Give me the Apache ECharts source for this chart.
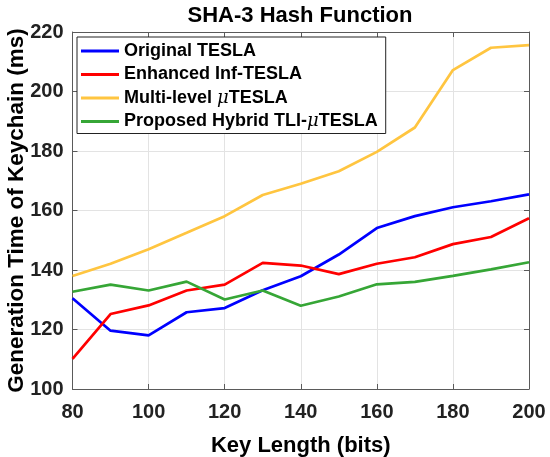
<!DOCTYPE html>
<html><head><meta charset="utf-8">
<script src="https://cdn.jsdelivr.net/npm/echarts@6/dist/echarts.min.js"></script>
<style>html,body{margin:0;padding:0;background:#fff}#c{width:550px;height:457px}</style>
</head><body><div id="c"></div>
<script>
const keyLengths = [80, 90, 100, 110, 120, 130, 140, 150, 160, 170, 180, 190, 200];
const originalTESLA = [130.5, 119.6, 118.0, 125.8, 127.2, 133.2, 137.9, 145.2, 154.1, 158.1, 161.1, 163.1, 165.4];
const enhancedInfTESLA = [110.1, 125.2, 128.1, 133.1, 135.1, 142.4, 141.5, 138.6, 142.1, 144.3, 148.7, 151.1, 157.4];
const multiLevelMuTESLA = [138.0, 142.1, 147.0, 152.5, 158.1, 165.2, 169.0, 173.2, 179.7, 187.9, 207.2, 214.7, 215.6];
const hybridTLIMuTESLA = [132.7, 135.1, 133.1, 136.1, 130.1, 133.1, 128.0, 131.1, 135.2, 136.0, 138.0, 140.2, 142.6];
const seriesNames = ['Original TESLA', 'Enhanced Inf-TESLA', 'Multi-level μTESLA', 'Proposed Hybrid TLI-μTESLA'];
const seriesColors = ['#0000FF', '#FF0000', '#FFC540', '#36A636'];

const font = 'Liberation Sans, Arial, sans-serif';
const chart = echarts.init(document.getElementById('c'));
const allData = [originalTESLA, enhancedInfTESLA, multiLevelMuTESLA, hybridTLIMuTESLA];
const axisColor = '#5a5a5a';
chart.setOption({
  animation: false,
  backgroundColor: '#fff',
  title: {
    text: 'SHA-3 Hash Function', left: 300, top: 5, padding: 0, textAlign: 'center',
    textStyle: {fontFamily: font, fontWeight: 'bold', fontSize: 22, color: '#000', lineHeight: 22}
  },
  grid: {left: 72.5, right: 21, top: 32, bottom: 68, containLabel: false, outerBoundsMode: 'none'},
  legend: {
    orient: 'vertical', left: 77, top: 37,
    icon: 'rect', itemWidth: 38, itemHeight: 3, itemGap: 3.5,
    backgroundColor: '#fff', borderColor: '#222', borderWidth: 1, borderRadius: 0,
    padding: [4, 8, 2, 4],
    data: seriesNames,
    formatter: n => n.replace('μ', '{i|μ}'),
    textStyle: {
      fontFamily: font, fontWeight: 'bold', fontSize: 18, color: '#000', lineHeight: 20,
      rich: {i: {fontFamily: 'DejaVu Serif, Liberation Serif, serif', fontStyle: 'italic', fontWeight: 'normal', fontSize: 18, color: '#000', lineHeight: 20}}
    }
  },
  xAxis: [{
    type: 'value', min: 80, max: 200, interval: 20,
    name: 'Key Length (bits)', nameLocation: 'middle', nameGap: 46, nameMoveOverlap: false,
    nameTextStyle: {fontFamily: font, fontWeight: 'bold', fontSize: 22, color: '#000', lineHeight: 22},
    axisLine: {show: true, lineStyle: {color: axisColor}},
    axisTick: {show: true, inside: true, length: 5, lineStyle: {color: axisColor}},
    axisLabel: {fontFamily: font, fontWeight: 'bold', fontSize: 20, color: '#222', margin: 13, lineHeight: 20},
    splitLine: {show: true, lineStyle: {color: '#e3e3e3'}}
  }, {
    type: 'value', min: 80, max: 200, interval: 20, position: 'top',
    axisLine: {show: true, lineStyle: {color: axisColor}},
    axisTick: {show: true, inside: true, length: 5, lineStyle: {color: axisColor}},
    axisLabel: {show: false}, splitLine: {show: false}
  }],
  yAxis: [{
    type: 'value', min: 100, max: 220, interval: 20,
    name: 'Generation Time of Keychain (ms)', nameLocation: 'middle', nameGap: 45, nameMoveOverlap: false,
    nameTextStyle: {fontFamily: font, fontWeight: 'bold', fontSize: 22.5, color: '#000', lineHeight: 22},
    axisLine: {show: true, lineStyle: {color: axisColor}},
    axisTick: {show: true, inside: true, length: 5, lineStyle: {color: axisColor}},
    axisLabel: {fontFamily: font, fontWeight: 'bold', fontSize: 20, color: '#222', margin: 9},
    splitLine: {show: true, lineStyle: {color: '#e3e3e3'}}
  }, {
    type: 'value', min: 100, max: 220, interval: 20, position: 'right',
    axisLine: {show: true, lineStyle: {color: axisColor}},
    axisTick: {show: true, inside: true, length: 5, lineStyle: {color: axisColor}},
    axisLabel: {show: false}, splitLine: {show: false}
  }],
  series: seriesNames.map((n, i) => ({
    name: n, type: 'line', symbol: 'none',
    color: seriesColors[i],
    lineStyle: {width: 2.7, color: seriesColors[i]},
    data: keyLengths.map((k, j) => [k, allData[i][j]]),
    z: 2 + i
  }))
});
</script></body></html>
